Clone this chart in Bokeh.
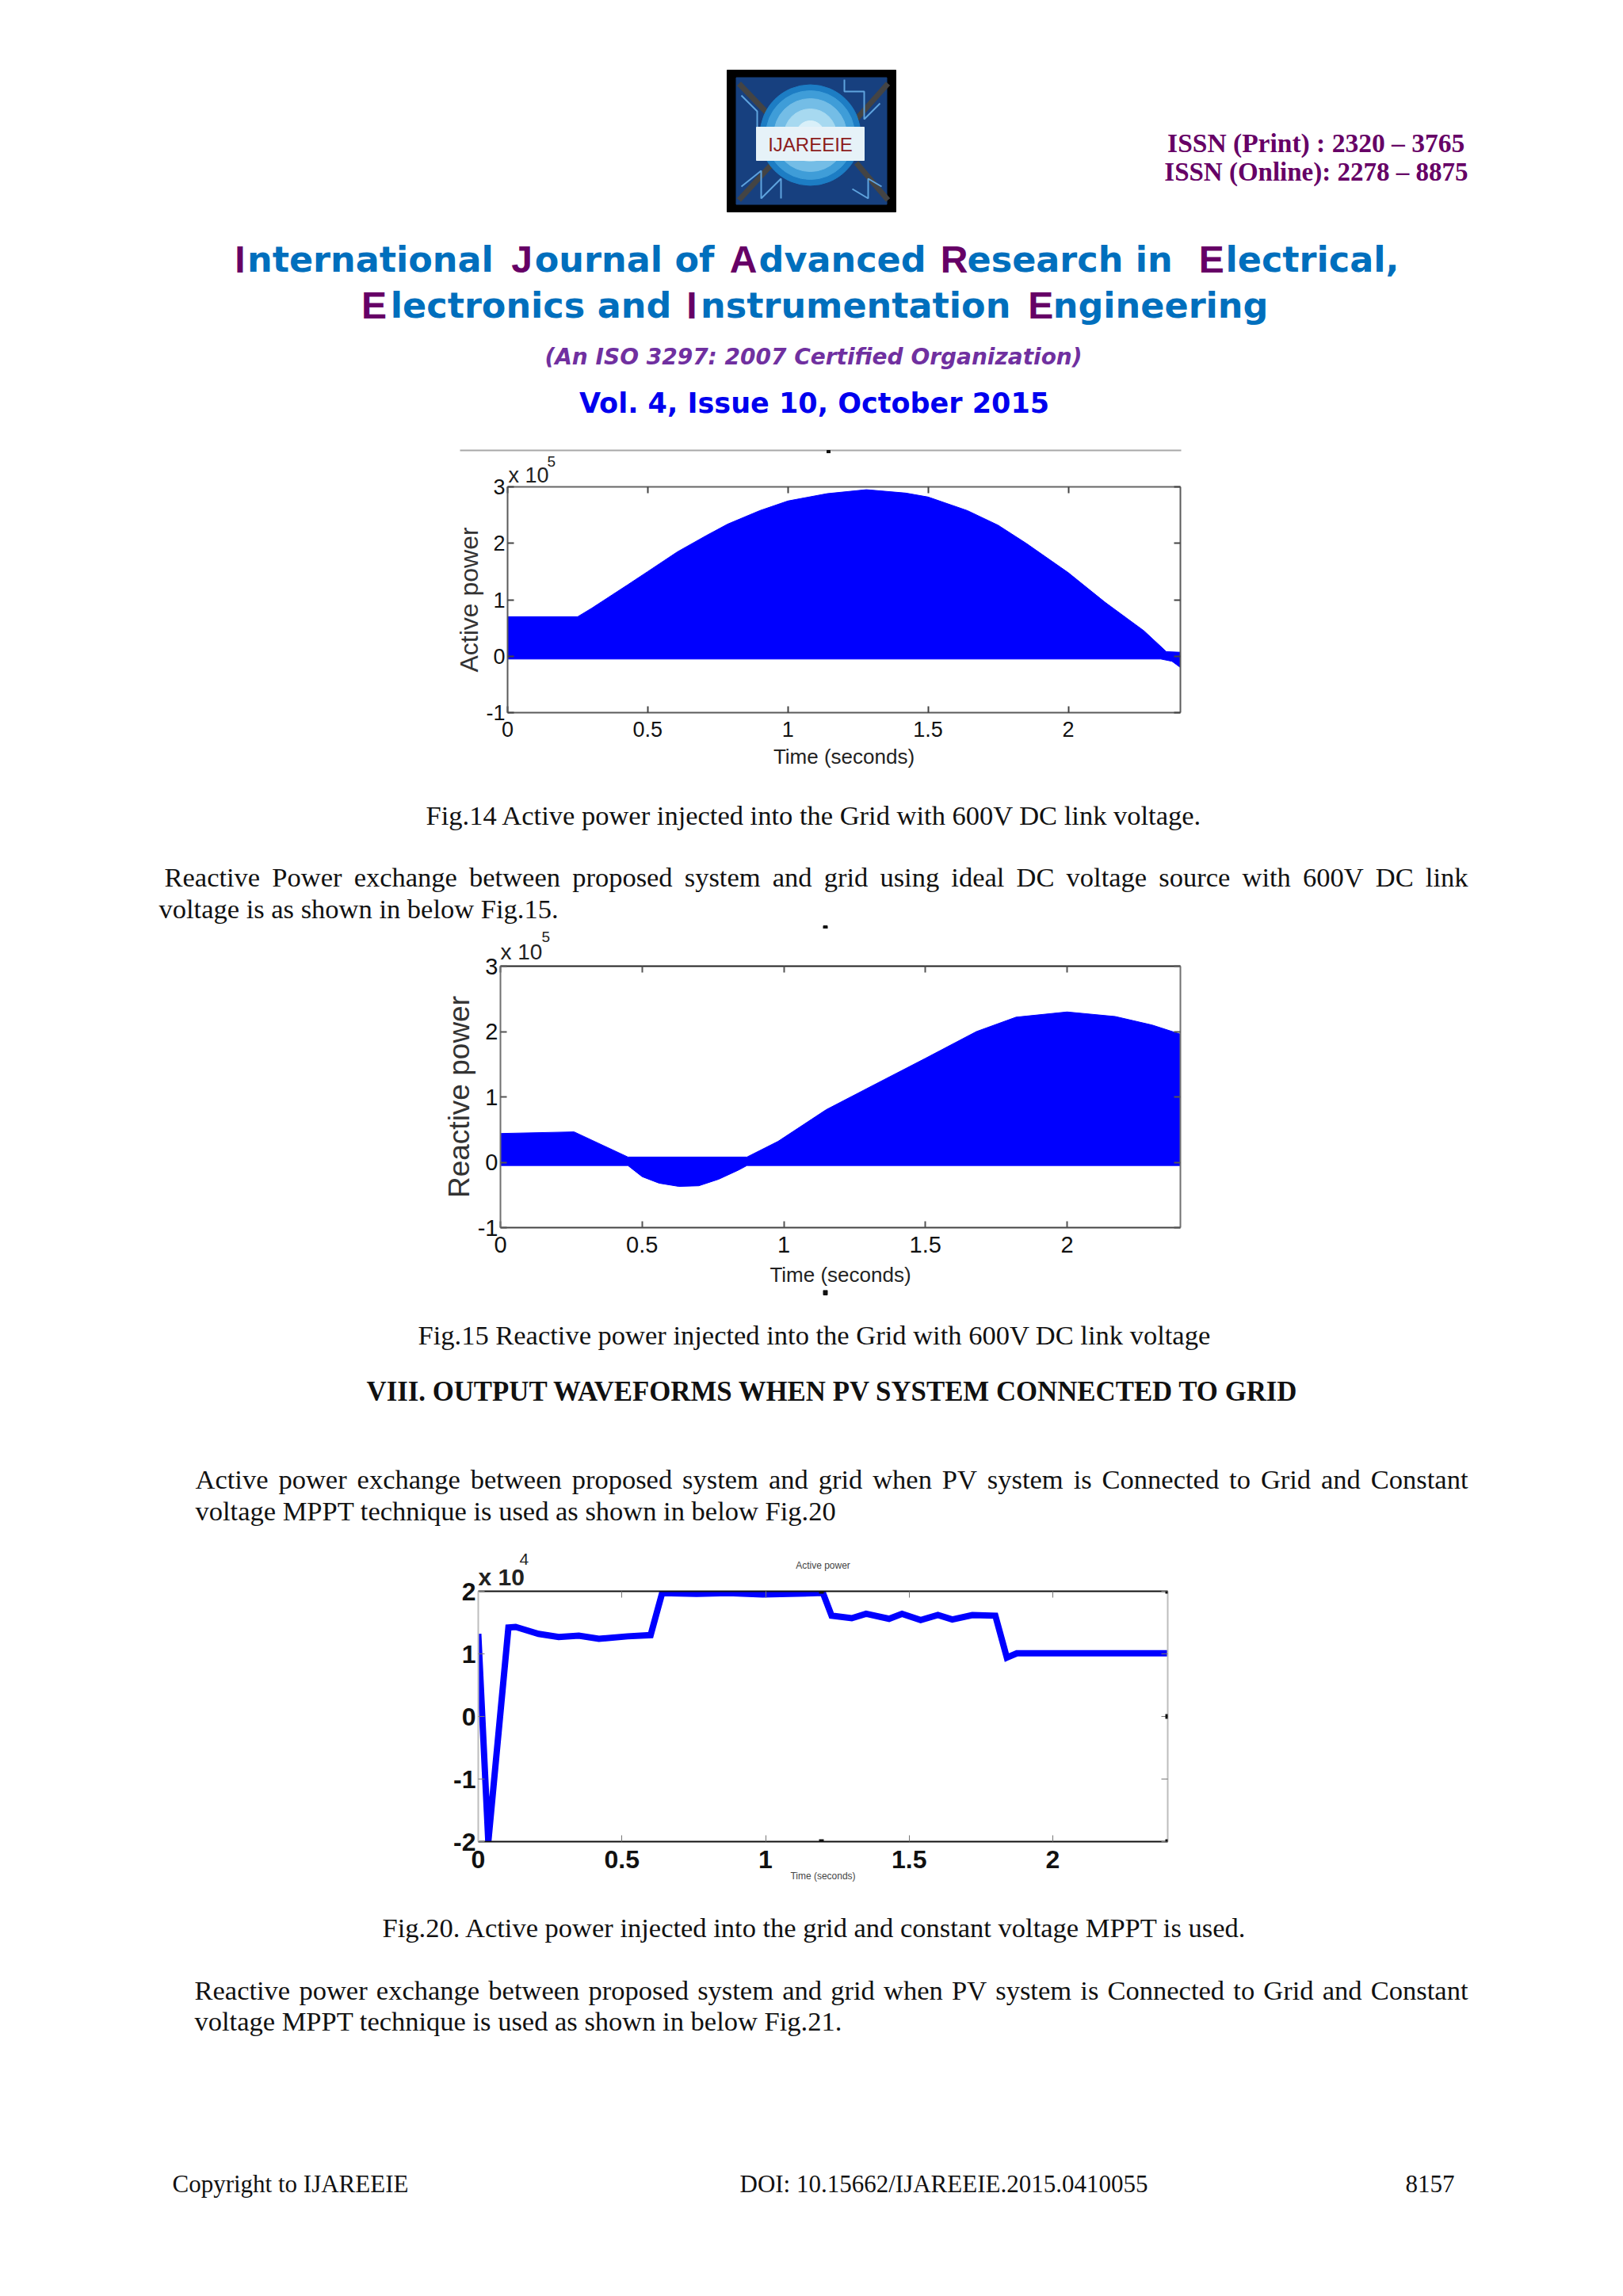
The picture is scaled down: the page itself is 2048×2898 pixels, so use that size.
from bokeh.plotting import figure
from bokeh.layouts import column
from bokeh.models import Label, Range1d, FixedTicker, LinearAxis, BoxAnnotation, Title
from bokeh.embed import file_html
from bokeh.resources import INLINE

# ---------- data ----------
active_t = [0, 0.25, 0.3, 0.43, 0.5, 0.606, 0.71, 0.785, 0.9, 1.0, 1.14, 1.28, 1.42, 1.5, 1.64, 1.75, 1.85, 2.0, 2.13, 2.27, 2.35, 2.4]
active_hi = [0.70, 0.70, 0.85, 1.27, 1.50, 1.85, 2.14, 2.34, 2.58, 2.75, 2.88, 2.95, 2.89, 2.82, 2.58, 2.32, 2.0, 1.48, 0.96, 0.45, 0.08, 0.07]
active_lo_t = [0, 2.33, 2.37, 2.4]
active_lo = [-0.05, -0.05, -0.09, -0.2]

react_t = [0, 0.26, 0.45, 0.87, 0.98, 1.15, 1.33, 1.5, 1.68, 1.82, 2.0, 2.17, 2.3, 2.4]
react_hi = [0.44, 0.465, 0.08, 0.08, 0.32, 0.805, 1.21, 1.59, 2.0, 2.22, 2.30, 2.23, 2.10, 1.96]
react_lo_t = [0, 0.45, 0.5, 0.56, 0.63, 0.70, 0.77, 0.84, 0.87, 2.4]
react_lo = [-0.05, -0.05, -0.22, -0.32, -0.37, -0.36, -0.26, -0.12, -0.05, -0.05]

pv_t = [0, 0.035, 0.105, 0.13, 0.21, 0.28, 0.35, 0.42, 0.52, 0.6, 0.64, 0.76, 0.87, 0.99, 1.18, 1.2, 1.23, 1.3, 1.35, 1.43, 1.475, 1.54, 1.6, 1.65, 1.72, 1.8, 1.84, 1.875, 2.4]
pv_p = [1.32, -2.0, 1.42, 1.43, 1.32, 1.27, 1.29, 1.24, 1.28, 1.3, 1.97, 1.96, 1.97, 1.95, 1.97, 1.97, 1.61, 1.57, 1.64, 1.56, 1.64, 1.54, 1.62, 1.55, 1.62, 1.61, 0.94, 1.01, 1.01]

x_ticks = [0, 0.5, 1, 1.5, 2]
y_ticks_power = [-1, 0, 1, 2, 3]
y_ticks_pv = [-2, -1, 0, 1, 2]
x_tick_labels = ["0", "0.5", "1", "1.5", "2"]
y_labels_power = ["-1", "0", "1", "2", "3"]
y_labels_pv = ["-2", "-1", "0", "1", "2"]

BLUE = "#0000ff"
W = 2040
SERIF = "Liberation Serif"
SANS = "Liberation Sans"
PURPLE = "#660066"
TEAL = "#006fbd"

AFM = dict(a=444,b=500,c=444,d=500,e=444,f=333,g=500,h=500,i=278,j=278,k=500,l=278,m=778,n=500,o=500,p=500,q=500,r=333,s=389,t=278,u=500,v=500,w=722,x=500,y=500,z=444,
           A=722,B=667,C=667,D=722,E=611,F=556,G=722,H=722,I=333,J=389,K=722,L=611,M=889,N=722,O=722,P=556,Q=722,R=667,S=556,T=611,U=722,V=722,W=944,X=722,Y=722,Z=611)


def tw(s, size):
    tot = 0
    for c in s:
        if c in AFM:
            tot += AFM[c]
        elif c.isdigit():
            tot += 500
        elif c in ".,":
            tot += 250
        elif c == " ":
            tot += 250
        elif c in "():-":
            tot += 300
        else:
            tot += 500
    return tot * size / 1000


def band(top, bottom):
    p = figure(width=W, height=bottom - top, x_range=Range1d(0, W), y_range=Range1d(bottom, top),
               output_backend="svg", toolbar_location=None, min_border=0, frame_align=False)
    p.xaxis.visible = False
    p.yaxis.visible = False
    p.grid.visible = False
    p.outline_line_color = None
    return p


def put(p, x, y, s, size, color="#111111", font=SERIF, style="normal", align="left"):
    p.add_layout(Label(x=x, y=y, text=s, text_font=font, text_font_size=f"{size}px", text_color=color,
                       text_font_style=style, text_align=align, text_baseline="middle"))


def justify(p, x0, x1, y, s, size):
    words = s.split()
    gap = (x1 - x0 - sum(tw(w, size) for w in words)) / (len(words) - 1)
    x = x0
    for w in words:
        put(p, x, y, w, size)
        x += tw(w, size) + gap


def chart(top, bottom, ftop, fbottom, fleft, fright, yr, yticks, ylabels, tick_style, tick_size):
    p = figure(width=W, height=bottom - top, x_range=Range1d(0, 2.4), y_range=Range1d(*yr),
               output_backend="svg", toolbar_location=None, frame_align=False,
               min_border_left=fleft, min_border_right=W - fright,
               min_border_top=ftop - top, min_border_bottom=bottom - fbottom)
    p.grid.visible = False
    p.outline_line_color = None
    ax = p.xaxis[0]
    ay = p.yaxis[0]
    ax.ticker = FixedTicker(ticks=x_ticks)
    ax.major_label_overrides = dict(zip(x_ticks, x_tick_labels))
    ay.ticker = FixedTicker(ticks=yticks)
    ay.major_label_overrides = dict(zip(yticks, ylabels))
    for a in (ax, ay):
        a.major_tick_in = 8
        a.major_tick_out = 0
        a.minor_tick_line_color = None
        a.major_label_text_font = SANS
        a.major_label_text_font_style = tick_style
        a.major_label_text_font_size = f"{tick_size}px"
        a.major_label_text_color = "#111111"
    ax.major_label_standoff = 11
    ay.major_label_standoff = 3
    top_ax = LinearAxis(ticker=FixedTicker(ticks=x_ticks), major_label_overrides={t: "" for t in x_ticks},
                        major_tick_in=8, major_tick_out=0, minor_tick_line_color=None, major_label_standoff=0)
    right_ax = LinearAxis(ticker=FixedTicker(ticks=yticks), major_label_overrides={t: "" for t in yticks},
                          major_tick_in=8, major_tick_out=0, minor_tick_line_color=None)
    p.add_layout(top_ax, "above")
    p.add_layout(right_ax, "right")
    return p, ax, ay, top_ax, right_ax


def top_text(p, s, size, offset, standoff, style="normal", align="left", color="#222222"):
    p.add_layout(Title(text=s, align=align, offset=offset, standoff=standoff, text_font=SANS, text_font_size=f"{size}px",
                       text_font_style=style, text_color=color), "above")


def sx(px, left, right):
    return (px - left) / (right - left) * 2.4


def sy(py, ftop, fbottom, yr):
    return yr[1] - (py - ftop) / (fbottom - ftop) * (yr[1] - yr[0])


# ---------- header ----------
head = band(0, 572)
head.rect(x=[1023.5], y=[177.5], width=[213], height=[179], color="#000000")
head.rect(x=[1023.5], y=[177.5], width=[190], height=[160], color="#17407f")
for x0, x1, y0, y1 in [(932, 975, 105, 150), (1120, 1080, 105, 150), (932, 975, 252, 205), (1120, 1080, 252, 205)]:
    head.line([x0, x1], [y0, y1], line_color="#444444", line_width=7)
head.line([935, 960, 960, 985, 985], [235, 215, 250, 225, 250], line_color="#5fa3de", line_width=2)
head.line([1110, 1090, 1090, 1065, 1065], [130, 150, 115, 115, 100], line_color="#5fa3de", line_width=2)
head.line([1112, 1095, 1095, 1075], [235, 225, 250, 238], line_color="#5fa3de", line_width=2)
head.line([935, 955, 955, 975], [120, 140, 175, 175], line_color="#5fa3de", line_width=2)
for d, col in [(127, "#1d7dc4"), (112, "#3f9dd8"), (92, "#74bde6"), (66, "#a7d9f0"), (36, "#d9f0f9")]:
    head.ellipse(x=[1022], y=[170], width=[d], height=[d], color=col)
head.rect(x=[1022], y=[181], width=[136], height=[42], color="#e6f2f8")
put(head, 1022, 182, "IJAREEIE", 24, "#8c1c1c", SANS, "normal", "center")

put(head, 1856, 180, "ISSN (Print)  : 2320 – 3765", 33.5, PURPLE, SERIF, "bold", "right")
put(head, 1852, 216, "ISSN (Online): 2278 – 8875", 33, PURPLE, SERIF, "bold", "right")

line1 = [(33, "I", 1), (48, "nternational", 0), (365, "J", 1), (393, "ournal of", 0), (627, "A", 1), (662, "dvanced", 0),
         (880, "R", 1), (912, "esearch in", 0), (1190, "E", 1), (1222, "lectrical,", 0)]
line2 = [(185, "E", 1), (220, "lectronics and", 0), (575, "I", 1), (592, "nstrumentation", 0), (985, "E", 1), (1015, "ngineering", 0)]
for runs, y in ((line1, 327), (line2, 385)):
    for zx, s, initial in runs:
        if initial:
            put(head, zx / 0.951 + 261, y, s, 48, PURPLE, SANS, "bold")
        else:
            put(head, zx / 0.951 + 261, y, s, 44.5, TEAL, "DejaVu Sans", "bold")
put(head, 1026, 450, "(An ISO 3297: 2007 Certified Organization)", 28, "#7030a0", "DejaVu Sans", "bold italic", "center")
put(head, 1027, 508, "Vol. 4, Issue 10, October 2015", 35, "#0000ee", "DejaVu Sans", "bold", "center")
head.line([580, 1490], [568, 568], line_color="#a8a8a8", line_width=2)
head.rect(x=[1045], y=[570], width=[4], height=[4], color="#111111")

# ---------- chart 1 ----------
L1, R1, T1, B1 = 640, 1489, 614, 899
YR = (-1, 3)
c1, ax, ay, tx, rx = chart(572, 975, T1, B1, L1, R1, YR, y_ticks_power, y_labels_power, "normal", 27)
c1.patch(active_t + active_lo_t[::-1], active_hi + active_lo[::-1], color=BLUE)
for a in (ax, ay, tx, rx):
    a.axis_line_color = "#5a5a5a"
    a.axis_line_width = 2
    a.major_tick_line_color = "#444444"
    a.major_tick_line_width = 2
tx.axis_line_color = "#666666"
ax.axis_label = "Time (seconds)"
ax.axis_label_text_font = SANS
ax.axis_label_text_font_size = "26px"
ax.axis_label_text_font_style = "normal"
ax.axis_label_text_color = "#222222"
ax.axis_label_standoff = 7
ay.axis_label = "Active power"
ay.axis_label_text_font = SANS
ay.axis_label_text_font_size = "32px"
ay.axis_label_text_font_style = "normal"
ay.axis_label_text_color = "#333333"
ay.axis_label_standoff = 0
top_text(c1, "x 10", 27, 1, 0)
top_text(c1, "5", 19, 50, -12)

# ---------- text band 1 ----------
t1 = band(975, 1172)
SZ = 34.5
put(t1, 537, 1028, "Fig.14 Active power injected into the Grid with 600V DC link voltage.", SZ)
justify(t1, 207, 1852, 1106, "Reactive Power exchange between proposed system and grid using ideal DC voltage source with 600V DC link", SZ)
put(t1, 200, 1146, "voltage is as shown in below Fig.15.", SZ)
t1.rect(x=[1041], y=[1170], width=[5], height=[4], color="#111111")

# ---------- chart 2 ----------
L2, R2, T2, B2 = 631, 1489, 1219, 1549
c2, ax, ay, tx, rx = chart(1172, 1628, T2, B2, L2, R2, YR, y_ticks_power, y_labels_power, "normal", 29)
c2.patch(react_t + react_lo_t[::-1], react_hi + react_lo[::-1], color=BLUE)
for a in (ax, ay, tx, rx):
    a.axis_line_color = "#707070"
    a.axis_line_width = 2
    a.major_tick_line_color = "#555555"
    a.major_tick_line_width = 2
tx.axis_line_color = "#222222"
ax.axis_line_color = "#444444"
ax.axis_label = "Time (seconds)"
ax.axis_label_text_font = SANS
ax.axis_label_text_font_size = "26px"
ax.axis_label_text_font_style = "normal"
ax.axis_label_text_color = "#222222"
ax.axis_label_standoff = 10
ay.axis_label = "Reactive power"
ay.axis_label_text_font = SANS
ay.axis_label_text_font_size = "37px"
ay.axis_label_text_font_style = "normal"
ay.axis_label_text_color = "#333333"
ay.axis_label_standoff = 0
top_text(c2, "x 10", 28, 0, 5)
top_text(c2, "5", 19, 52, -15)

# ---------- text band 2 ----------
t2 = band(1628, 1940)
t2.rect(x=[1041], y=[1631], width=[5], height=[6], color="#111111")
put(t2, 527, 1684, "Fig.15 Reactive power injected into the Grid with 600V DC link voltage", SZ)
put(t2, 462, 1756, "VIII. OUTPUT WAVEFORMS WHEN PV SYSTEM CONNECTED TO GRID", 34.8, "#111111", SERIF, "bold")
justify(t2, 246, 1852, 1866, "Active power exchange between proposed system and grid when PV system is Connected to Grid and Constant", SZ)
put(t2, 246, 1906, "voltage MPPT technique is used as shown in below Fig.20", SZ)

# ---------- chart 3 ----------
L3, R3, T3, B3 = 603, 1473, 2008, 2324
YR3 = (-2, 2)
c3, ax, ay, tx, rx = chart(1940, 2400, T3, B3, L3, R3, YR3, y_ticks_pv, y_labels_pv, "bold", 32)
c3.line(pv_t, pv_p, line_color=BLUE, line_width=8, line_join="miter")
for a in (ax, tx):
    a.axis_line_color = "#111111"
    a.axis_line_width = 2
    a.major_tick_line_color = "#777777"
    a.major_tick_line_width = 1
for a in (ay, rx):
    a.axis_line_color = "#bdbdbd"
    a.axis_line_width = 2
    a.major_tick_line_color = "#777777"
    a.major_tick_line_width = 1
ax.axis_label = "Time (seconds)"
ax.axis_label_text_font = SANS
ax.axis_label_text_font_size = "12px"
ax.axis_label_text_font_style = "normal"
ax.axis_label_text_color = "#444444"
ax.axis_label_standoff = 0
top_text(c3, "x 10", 30, 0, 3, "bold")
top_text(c3, "Active power", 12, 0, -24, "normal", "center", "#444444")
top_text(c3, "4", 21, 52, -8)
for px, py in ((1036, 2008), (1473, 2008), (1473, 2166), (1473, 2324), (1036, 2324)):
    c3.add_layout(BoxAnnotation(left=sx(px - 3, L3, R3), right=sx(px + 3, L3, R3), top=sy(py - 3, T3, B3, YR3), bottom=sy(py + 3, T3, B3, YR3),
                                fill_color="#111111", fill_alpha=1, line_color=None))

# ---------- text band 3 ----------
t3 = band(2400, 2890)
put(t3, 482, 2432, "Fig.20. Active power injected into the grid and constant voltage MPPT is used.", SZ)
justify(t3, 245, 1852, 2511, "Reactive power exchange between proposed system and grid when PV system is Connected to Grid and Constant", SZ)
put(t3, 245, 2550, "voltage MPPT technique is used as shown in below Fig.21.", SZ)
put(t3, 217, 2756, "Copyright to IJAREEIE", 31)
put(t3, 933, 2756, "DOI: 10.15662/IJAREEIE.2015.0410055", 31)
put(t3, 1773, 2756, "8157", 31)

page = column(head, c1, t1, c2, t2, c3, t3, spacing=0)
open("out.html", "w").write(file_html(page, INLINE))
